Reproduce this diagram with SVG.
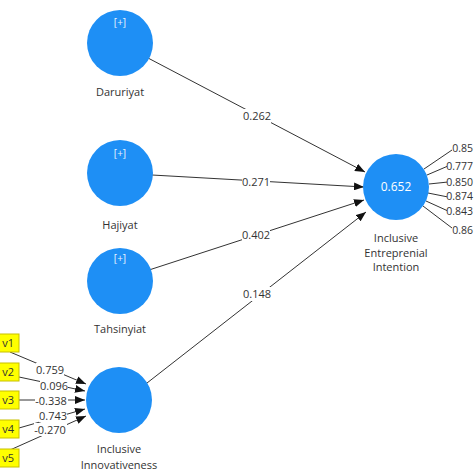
<svg xmlns="http://www.w3.org/2000/svg" width="474" height="474" viewBox="0 0 474 474">
<defs>
<marker id="arr" markerUnits="userSpaceOnUse" markerWidth="10" markerHeight="8" refX="10" refY="4" orient="auto">
<path d="M0,0 L10,4 L0,8 z" fill="#111"/>
</marker>
</defs>
<style>
.c{fill:#1e8ff5}
.t{font-family:"Open Sans","Noto Sans",sans-serif;font-size:11px;fill:#333;text-anchor:middle}
.p{font-family:"Open Sans","Noto Sans",sans-serif;font-size:10px;fill:#eaf4ff;text-anchor:middle}
.w{font-family:"Open Sans","Noto Sans",sans-serif;font-size:12px;fill:#fff;text-anchor:middle}
.e{stroke:#333;stroke-width:1;fill:none}
.a{stroke:#333;stroke-width:1;fill:none;marker-end:url(#arr)}
.bg{fill:#fff}
.v{fill:#ffff00;stroke:#c8c000;stroke-width:1}
.vt{font-family:"Open Sans","Noto Sans",sans-serif;font-size:11px;fill:#333;text-anchor:end}
.l{font-family:"Open Sans","Noto Sans",sans-serif;font-size:10.5px;fill:#333;text-anchor:end}
</style>
<rect width="474" height="474" fill="#fff"/>
<g id="connectors">
<line class="a" x1="148" y1="58" x2="365" y2="172"/>
<line class="a" x1="152" y1="175" x2="364" y2="187"/>
<line class="a" x1="149" y1="270" x2="364" y2="200"/>
<line class="a" x1="147" y1="383" x2="366" y2="212"/>
<line class="a" x1="10" y1="352" x2="86" y2="384"/>
<line class="a" x1="19" y1="377" x2="85" y2="391"/>
<line class="a" x1="19" y1="400" x2="85" y2="400"/>
<line class="a" x1="19" y1="428" x2="85" y2="409"/>
<line class="a" x1="10" y1="450" x2="86" y2="416"/>
<line class="e" x1="424" y1="169" x2="452" y2="150"/>
<line class="e" x1="427" y1="175" x2="448" y2="166"/>
<line class="e" x1="429" y1="184" x2="448" y2="182"/>
<line class="e" x1="428" y1="193" x2="448" y2="197"/>
<line class="e" x1="426" y1="201" x2="448" y2="211"/>
<line class="e" x1="423" y1="206" x2="452" y2="228"/>
<rect class="bg" x="243" y="109" width="28" height="14"/>
<text class="t" x="257" y="120">0.262</text>
<rect class="bg" x="242" y="175" width="28" height="14"/>
<text class="t" x="256" y="186">0.271</text>
<rect class="bg" x="242" y="228" width="28" height="14"/>
<text class="t" x="256" y="239">0.402</text>
<rect class="bg" x="243" y="287" width="28" height="14"/>
<text class="t" x="257" y="298">0.148</text>
<rect class="bg" x="36" y="363" width="28" height="13"/>
<text class="t" x="50" y="374">0.759</text>
<rect class="bg" x="40" y="379" width="28" height="13"/>
<text class="t" x="54" y="390">0.096</text>
<rect class="bg" x="35" y="394" width="33" height="13"/>
<text class="t" x="51" y="405">-0.338</text>
<rect class="bg" x="39" y="409" width="28" height="13"/>
<text class="t" x="53" y="420">0.743</text>
<rect class="bg" x="34" y="423" width="33" height="13"/>
<text class="t" x="50" y="434">-0.270</text>
<rect class="bg" x="452" y="142" width="22" height="13"/>
<text class="l" x="473" y="152">0.85</text>
<rect class="bg" x="447" y="160" width="27" height="13"/>
<text class="l" x="473" y="170">0.777</text>
<rect class="bg" x="447" y="175" width="27" height="13"/>
<text class="l" x="473" y="186">0.850</text>
<rect class="bg" x="447" y="190" width="27" height="13"/>
<text class="l" x="473" y="200">0.874</text>
<rect class="bg" x="447" y="205" width="27" height="13"/>
<text class="l" x="473" y="215">0.843</text>
<rect class="bg" x="452" y="223" width="22" height="13"/>
<text class="l" x="473" y="234">0.86</text>
</g>
<g id="daruriyat">
<circle class="c" cx="120" cy="43" r="33"/>
<text class="p" x="120" y="26">[+]</text>
<text class="t" x="120" y="96">Daruriyat</text>
</g>
<g id="hajiyat">
<circle class="c" cx="120" cy="173" r="33"/>
<text class="p" x="120" y="157">[+]</text>
<text class="t" x="120" y="229">Hajiyat</text>
</g>
<g id="tahsinyiat">
<circle class="c" cx="120" cy="281" r="33"/>
<text class="p" x="120" y="262">[+]</text>
<text class="t" x="120" y="333">Tahsinyiat</text>
</g>
<g id="inclusive-innovativeness">
<circle class="c" cx="119" cy="400" r="33"/>
<text class="t" x="119" y="453">Inclusive</text>
<text class="t" x="119" y="469">Innovativeness</text>
</g>
<g id="inclusive-entreprenial-intention">
<circle class="c" cx="396" cy="187" r="33"/>
<text class="w" x="396" y="191">0.652</text>
<text class="t" x="396" y="242">Inclusive</text>
<text class="t" x="396" y="257">Entreprenial</text>
<text class="t" x="396" y="271">Intention</text>
</g>
<g id="v1"><rect class="v" x="-10" y="334" width="29" height="18"/><text class="vt" x="14" y="347">v1</text></g>
<g id="v2"><rect class="v" x="-10" y="363" width="29" height="18"/><text class="vt" x="14" y="376">v2</text></g>
<g id="v3"><rect class="v" x="-10" y="391" width="29" height="18"/><text class="vt" x="14" y="404">v3</text></g>
<g id="v4"><rect class="v" x="-10" y="420" width="29" height="18"/><text class="vt" x="14" y="433">v4</text></g>
<g id="v5"><rect class="v" x="-10" y="449" width="29" height="18"/><text class="vt" x="14" y="462">v5</text></g>
</svg>
